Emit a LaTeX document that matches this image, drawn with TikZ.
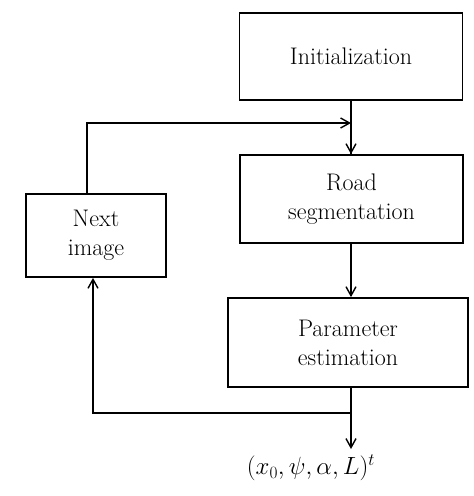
\documentclass[tikz,border=0pt]{standalone}
\usetikzlibrary{arrows.meta}
\begin{document}
\begin{tikzpicture}[x=1pt,y=-1pt,
  box/.style={draw,line width=1.8pt,inner sep=0pt,align=center,font=\fontsize{24}{29}\selectfont},
  conn/.style={line width=1.6pt},
  arr/.style={conn,-{Straight Barb[length=9pt,width=10pt,line width=1.4pt]}}]
\useasboundingbox (0,0) rectangle (474,496);
\node[box,minimum width=223pt,minimum height=87pt] (init) at (351,56.5) {Initialization};
\node[box,minimum width=223pt,minimum height=88pt] (road) at (351.5,199) {Road\\segmentation};
\node[box,minimum width=140pt,minimum height=83pt] (next) at (96,235.5) {Next\\image};
\node[box,minimum width=240pt,minimum height=89pt] (param) at (348,342.5) {Parameter\\estimation};
\node[font=\fontsize{24}{28}\selectfont,inner sep=0pt] (out) at (311,468) {$(x_0,\psi,\alpha,L)^t$};
\coordinate (j1) at (351,123);
\coordinate (j2) at (351,413);
\coordinate (cA) at (87,123);
\coordinate (cB) at (93,413);
\coordinate (e) at (351,449);
\draw[conn] (init.south -| j1) -- (road.north -| j1);
\draw[arr] (j1) -- (road.north -| j1);
\draw[arr] (cA |- next.north) -- (cA) -- (j1);
\draw[arr] (road.south -| j1) -- (param.north -| j1);
\draw[arr] (param.south -| j2) -- (e);
\draw[arr] (j2) -- (cB) -- (cB |- next.south);
\end{tikzpicture}
\end{document}
